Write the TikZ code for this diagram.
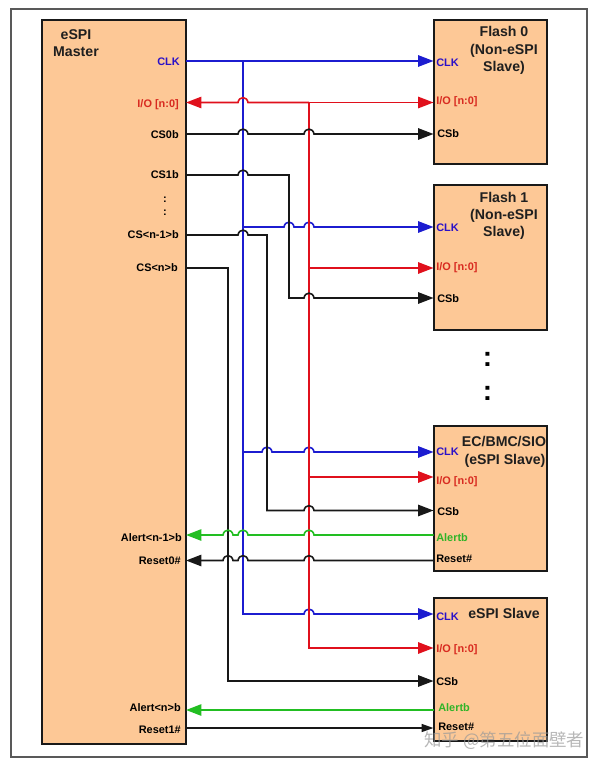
\documentclass[tikz,border=0pt]{standalone}
\usepackage{fontspec}
\setmainfont{Liberation Sans}
\newfontfamily\cjkwm{Noto Sans CJK SC}
\usetikzlibrary{arrows.meta}
\definecolor{boxfill}{HTML}{FDC896}
\definecolor{wblue}{HTML}{1C1CD0}
\definecolor{wred}{HTML}{E0101C}
\definecolor{wgreen}{HTML}{22BE22}
\definecolor{wblack}{HTML}{181818}
\definecolor{tblue}{HTML}{2A10C8}
\definecolor{tred}{HTML}{D82A20}
\definecolor{tgreen}{HTML}{30B428}
\newcommand{\hopR}[2]{-- (#1-5,#2) .. controls (#1-4,#2-6.5) and (#1+4,#2-6.5) .. (#1+5,#2)}
\newcommand{\hopL}[2]{-- (#1+5,#2) .. controls (#1+4,#2-6.5) and (#1-4,#2-6.5) .. (#1-5,#2)}
\tikzset{
  x=0.75pt,y=-0.75pt,
  frame/.style={draw=black!65,line width=0.9pt},
  box/.style={draw=black!90,fill=boxfill,line width=1.5pt,anchor=north west,inner sep=0pt,outer sep=0pt},
  wire/.style={line width=1.2pt,line join=miter},
  tip/.style={-{Triangle[length=11.5pt,width=8.5pt]}},
  tipback/.style={{Triangle[length=11.5pt,width=8.5pt]}-},
  title/.style={font=\bfseries\fontsize{10.6pt}{12pt}\selectfont,text=black!88,inner sep=0pt},
  pin/.style={font=\bfseries\fontsize{8.2pt}{10pt}\selectfont,inner sep=0pt},
  pinl/.style={pin,anchor=east},
  pinr/.style={pin,anchor=west},
  dots/.style={font=\bfseries\fontsize{21pt}{24pt}\selectfont,inner sep=0pt},
}
\begin{document}
\begin{tikzpicture}
\useasboundingbox (0,0) rectangle (600,763);
\fill[white] (0,0) rectangle (600,763);
\draw[frame] (11,9) rectangle (587,757);

\node[box,minimum width=108.4pt,minimum height=543pt] (master) at (41.5,20) {};
\node[box,minimum width=85.2pt,minimum height=108pt] (f0) at (433.5,20) {};
\node[box,minimum width=85.2pt,minimum height=108.75pt] (f1) at (433.5,185) {};
\node[box,minimum width=85.2pt,minimum height=108.4pt] (ec) at (433.5,426) {};
\node[box,minimum width=85.2pt,minimum height=107.5pt] (sl) at (433.5,597.5) {};

\coordinate (clkbus) at (243,61);
\coordinate (clkend) at (243,614);
\coordinate (iobus) at (309,102.5);
\coordinate (ioend) at (309,648);

% CLK
\draw[wire,wblue,tip] (master.east|-0,61) -- (f0.west|-0,61);
\draw[wire,wblue,tip] (clkbus) -- (clkend) \hopR{309}{614} -- (sl.west|-0,614);
\draw[wire,wblue,tip] (243,227) \hopR{289}{227} \hopR{309}{227} -- (f1.west|-0,227);
\draw[wire,wblue,tip] (243,452) \hopR{267}{452} \hopR{309}{452} -- (ec.west|-0,452);
% I/O
\draw[wire,wred,tipback] (master.east|-0,102.5) \hopR{243}{102.5} -- (iobus);
\draw[wire,wred,tip] (iobus) -- (f0.west|-0,102.5);
\draw[wire,wred,tip] (iobus) -- (ioend) -- (sl.west|-0,648);
\draw[wire,wred,tip] (309,268) -- (f1.west|-0,268);
\draw[wire,wred,tip] (309,477) -- (ec.west|-0,477);
% chip selects
\draw[wire,wblack,tip] (master.east|-0,134) \hopR{243}{134} \hopR{309}{134} -- (f0.west|-0,134);
\draw[wire,wblack,tip] (master.east|-0,175) \hopR{243}{175} -- (289,175) -- (289,298) \hopR{309}{298} -- (f1.west|-0,298);
\draw[wire,wblack,tip] (master.east|-0,235) \hopR{243}{235} -- (267,235) -- (267,510.5) \hopR{309}{510.5} -- (ec.west|-0,510.5);
\draw[wire,wblack,tip] (master.east|-0,268) -- (228,268) -- (228,681) -- (sl.west|-0,681);
% alert and reset
\draw[wire,wgreen,tip] (ec.west|-0,535) \hopL{309}{535} \hopL{243}{535} \hopL{228}{535} -- (master.east|-0,535);
\draw[wire,wblack,tip] (ec.west|-0,560.5) \hopL{309}{560.5} \hopL{243}{560.5} \hopL{228}{560.5} -- (master.east|-0,560.5);
\draw[wire,wgreen,tip] (sl.west|-0,710) -- (master.east|-0,710);
\draw[wire,wblack,-{Triangle[length=9pt,width=6pt]}] (master.east|-0,728) -- (sl.west|-0,728);

% titles
\node[title] (t1) at (76,35) {eSPI};
\node[title] (t2) at (76,52) {Master};
\node[title] (t3) at (504,31) {Flash 0};
\node[title] (t4) at (504,51) {(Non-eSPI};
\node[title] (t5) at (504,68) {Slave)};
\node[title] (t6) at (504,197) {Flash 1};
\node[title] (t7) at (504,215.5) {(Non-eSPI};
\node[title] (t8) at (504,233) {Slave)};
\node[title] (t9) at (504,442) {EC/BMC/SIO};
\node[title] (t10) at (505,461) {(eSPI Slave)};
\node[title] (t11) at (504,613) {eSPI Slave};

% master pins
\node[pinl,text=tblue] (m1) at (180,62) {CLK};
\node[pinl,text=tred] (m2) at (179,104.5) {I/O [n:0]};
\node[pinl] (m3) at (179,135) {CS0b};
\node[pinl] (m4) at (179,175) {CS1b};
\node[pin] (m5) at (165,200) {:};
\node[pin] (m6) at (165,213) {:};
\node[pinl] (m7) at (179,235) {CS<n-1>b};
\node[pinl] (m8) at (178,268) {CS<n>b};
\node[pinl] (m9) at (182,538) {Alert<n-1>b};
\node[pinl] (m10) at (181,560.5) {Reset0\#};
\node[pinl] (m11) at (181,708) {Alert<n>b};
\node[pinl] (m12) at (181,730) {Reset1\#};

% slave pins
\node[pinr,text=tblue] (a1) at (436,63) {CLK};
\node[pinr,text=tred] (a2) at (436,102) {I/O [n:0]};
\node[pinr] (a3) at (437,133.5) {CSb};
\node[pinr,text=tblue] (b1) at (436,228) {CLK};
\node[pinr,text=tred] (b2) at (436,267.5) {I/O [n:0]};
\node[pinr] (b3) at (437,299) {CSb};
\node[pinr,text=tblue] (c1) at (436,451.5) {CLK};
\node[pinr,text=tred] (c2) at (436,481.5) {I/O [n:0]};
\node[pinr] (c3) at (437,511.5) {CSb};
\node[pinr,text=tgreen] (c4) at (436,538) {Alertb};
\node[pinr] (c5) at (436,558.5) {Reset\#};
\node[pinr,text=tblue] (d1) at (436,617) {CLK};
\node[pinr,text=tred] (d2) at (436,649.5) {I/O [n:0]};
\node[pinr] (d3) at (436,682) {CSb};
\node[pinr,text=tgreen] (d4) at (438,708) {Alertb};
\node[pinr] (d5) at (438,727) {Reset\#};

% ellipsis
\node[dots] (e1) at (487.5,359) {:};
\node[dots] (e2) at (487.5,393) {:};

% watermark
\node[inner sep=0pt,anchor=west,text=black!40,opacity=0.7,font=\cjkwm\fontsize{13.1pt}{15pt}\selectfont] (wm) at (424,741) {知乎 @第五位面壁者};
\end{tikzpicture}
\end{document}
